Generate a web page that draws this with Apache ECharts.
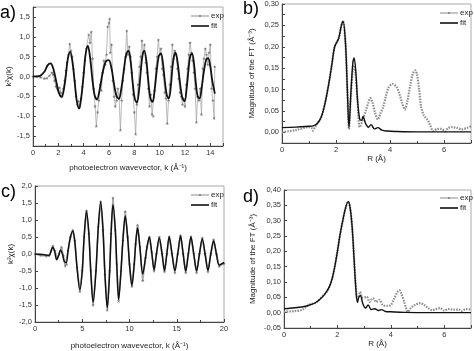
<!DOCTYPE html>
<html>
<head>
<meta charset="utf-8">
<script src="https://cdn.jsdelivr.net/npm/echarts@6/dist/echarts.min.js"></script>
<style>
  html, body { margin: 0; padding: 0; background: #fff; }
  #chart { width: 474px; height: 351px; }
</style>
</head>
<body>
<div id="chart"></div>
<script>
// a) k^2 chi(k), sample 1
const aExp = [
  [0,0],[0.3,0],[0.6,-0.02],[0.9,-0.05],[1.1,-0.04],[1.3,0.02],[1.5,0.1],[1.6,0.05],[1.7,-0.1],[1.8,-0.25],
  [1.9,-0.3],[2.0,-0.35],[2.1,-0.28],[2.2,-0.4],[2.3,-0.5],[2.4,-0.3],[2.5,-0.1],[2.6,0.15],[2.7,0.35],[2.8,0.55],
  [2.9,0.82],[3.0,0.65],[3.1,0.5],[3.2,0.2],[3.3,-0.1],[3.4,-0.5],[3.5,-0.7],[3.6,-0.62],[3.7,-0.75],[3.8,-0.55],
  [3.9,-0.25],[4.0,0.1],[4.1,0.4],[4.2,0.7],[4.3,0.75],[4.4,1.05],[4.5,0.85],[4.6,1.12],[4.7,0.45],[4.8,-0.3],
  [4.9,-0.75],[5.0,-1.25],[5.1,-0.9],[5.2,-0.6],[5.3,-0.2],[5.4,-0.35],[5.5,0.1],[5.6,0.4],[5.7,0.3],[5.8,0.55],
  [5.9,1.25],[6.0,1.35],[6.05,1.45],[6.1,0.6],[6.2,0.8],[6.3,-0.1],[6.4,-0.5],[6.5,-0.75],[6.6,-0.6],[6.7,-0.3],
  [6.8,-0.55],[6.9,-1.35],[7.0,-0.6],[7.1,-0.1],[7.2,0.2],[7.3,0.5],[7.4,1.15],[7.5,0.55],[7.6,0.75],[7.7,0.5],
  [7.8,0.1],[7.9,-0.45],[8.0,-0.9],[8.1,-1.45],[8.2,-0.7],[8.3,-0.2],[8.4,0.25],[8.5,0.5],[8.6,0.9],[8.7,0.6],
  [8.8,0.8],[8.9,0.35],[9.0,0.1],[9.1,-0.3],[9.2,-0.75],[9.3,-0.45],[9.4,-0.95],[9.5,-1.0],[9.6,-0.35],[9.7,0.2],
  [9.8,0.5],[9.9,0.92],[10.0,0.55],[10.1,0.7],[10.2,0.2],[10.3,0.05],[10.4,-0.4],[10.5,-0.55],[10.6,-1.18],[10.7,-0.6],
  [10.8,-0.2],[10.9,0.25],[11.0,0.8],[11.1,0.45],[11.2,0.65],[11.3,0.55],[11.4,0.2],[11.5,-0.05],[11.6,-0.4],[11.7,-0.5],
  [11.8,-0.7],[11.9,-0.55],[12.0,-0.75],[12.1,-0.2],[12.2,0.2],[12.3,0.55],[12.4,0.85],[12.5,0.6],[12.6,0.4],[12.7,0.1],
  [12.8,-0.3],[12.9,-1.15],[13.0,-0.5],[13.1,-0.6],[13.2,-0.3],[13.3,-0.95],[13.4,0.2],[13.5,0.45],[13.6,0.7],[13.7,0.55],
  [13.8,0.3],[13.9,0.6],[14.0,0.8],[14.1,-0.3],[14.2,-0.6],[14.3,-1.05],[14.35,0.25]
];
const aFit = [
  [0,0],[0.5,0.01],[0.9,0.12],[1.15,0.28],[1.38,0.33],[1.6,0.2],[1.85,-0.15],[2.05,-0.42],[2.26,-0.51],[2.45,-0.3],
  [2.6,0.05],[2.75,0.45],[2.93,0.62],[3.1,0.4],[3.28,-0.1],[3.45,-0.6],[3.64,-0.81],[3.82,-0.5],[4.0,0.05],[4.15,0.55],
  [4.33,0.77],[4.5,0.5],[4.68,-0.05],[4.85,-0.45],[5.05,-0.58],[5.25,-0.35],[5.5,0.1],[5.75,0.38],[5.98,0.41],[6.2,0.2],
  [6.4,-0.2],[6.6,-0.5],[6.78,-0.56],[6.95,-0.35],[7.15,0.1],[7.35,0.55],[7.53,0.65],[7.7,0.4],[7.87,-0.15],[8.03,-0.55],
  [8.2,-0.66],[8.37,-0.35],[8.5,0.1],[8.63,0.5],[8.78,0.65],[8.95,0.4],[9.1,-0.1],[9.27,-0.55],[9.44,-0.64],[9.6,-0.35],
  [9.75,0.1],[9.92,0.5],[10.1,0.58],[10.27,0.3],[10.42,-0.15],[10.57,-0.48],[10.72,-0.55],[10.88,-0.25],[11.0,0.2],[11.12,0.5],
  [11.25,0.6],[11.42,0.35],[11.6,-0.15],[11.8,-0.55],[11.97,-0.62],[12.13,-0.3],[12.27,0.15],[12.4,0.5],[12.55,0.58],[12.72,0.3],
  [12.85,-0.15],[13.0,-0.5],[13.16,-0.55],[13.33,-0.25],[13.5,0.15],[13.67,0.42],[13.83,0.46],[14.0,0.25],[14.15,-0.1],[14.36,-0.43]
];

// b) FT magnitude, sample 1
const bExp = [
  [0,0],[0.5,0.005],[1.0,0.012],[1.1,0.01],[1.15,0.004],[1.22,0.012],[1.3,0.02],[1.45,0.035],[1.6,0.07],[1.75,0.12],
  [1.85,0.16],[1.95,0.2],[2.1,0.22],[2.2,0.25],[2.26,0.26],[2.35,0.21],[2.42,0.1],[2.48,0.007],[2.55,0.085],[2.62,0.145],
  [2.67,0.156],[2.73,0.135],[2.8,0.07],[2.88,0.012],[3.0,0.03],[3.1,0.05],[3.2,0.07],[3.27,0.08],[3.35,0.07],[3.45,0.045],
  [3.55,0.03],[3.65,0.045],[3.75,0.06],[3.85,0.085],[3.95,0.105],[4.1,0.113],[4.25,0.105],[4.35,0.09],[4.45,0.068],[4.55,0.053],
  [4.65,0.075],[4.75,0.11],[4.85,0.138],[4.93,0.145],[5.0,0.135],[5.08,0.1],[5.15,0.06],[5.25,0.04],[5.4,0.028],[5.5,0.015],
  [5.6,0.003],[5.75,0.008],[5.9,0.008],[6.05,0.002],[6.15,0.01],[6.3,0.012],[6.5,0.01],[6.65,0.007],[6.85,0.01],[7.0,0.014]
];
const bFit = [
  [0,0.011],[0.5,0.012],[1.0,0.014],[1.15,0.015],[1.3,0.02],[1.45,0.035],[1.6,0.07],[1.75,0.12],[1.85,0.16],[1.95,0.2],
  [2.1,0.22],[2.2,0.25],[2.26,0.26],[2.35,0.21],[2.42,0.1],[2.48,0.012],[2.55,0.09],[2.62,0.16],[2.67,0.174],[2.73,0.145],
  [2.8,0.074],[2.88,0.03],[2.95,0.028],[3.0,0.037],[3.1,0.02],[3.2,0.012],[3.3,0.018],[3.42,0.008],[3.55,0.011],[3.7,0.005],
  [3.9,0.003],[4.2,0.002],[5.0,0.001],[6.0,0.001],[7.0,0.001]
];

// c) k^2 chi(k), sample 2
const cExp = [
  [0,0],[0.6,-0.04],[1.2,-0.06],[1.5,-0.05],[1.7,0.1],[1.9,0.24],[2.1,0.1],[2.35,-0.12],[2.55,0.0],[2.8,0.2],
  [3.0,-0.05],[3.2,-0.35],[3.35,-0.3],[3.5,0.1],[3.75,0.5],[4.0,0.7],[4.2,0.4],[4.45,-0.4],[4.75,-1.1],[5.0,-0.5],
  [5.2,0.5],[5.45,1.28],[5.7,0.6],[5.9,-0.5],[6.15,-1.5],[6.45,-0.5],[6.7,0.8],[6.95,1.55],[7.2,0.7],[7.4,-0.6],
  [7.65,-1.65],[7.9,-0.5],[8.05,0.6],[8.25,1.65],[8.5,0.7],[8.65,-0.3],[8.85,-1.38],[9.1,-0.5],[9.3,0.4],[9.55,1.25],
  [9.8,0.5],[10.0,-0.3],[10.25,-0.95],[10.5,-0.3],[10.65,0.3],[10.85,0.85],[11.1,0.2],[11.4,-0.78],[11.7,-0.1],[11.85,0.2],
  [12.1,0.5],[12.35,0.05],[12.6,-0.5],[12.85,0.0],[13.15,0.5],[13.45,0.0],[13.7,-0.52],[13.95,0.0],[14.2,0.52],[14.5,0.0],
  [14.8,-0.55],[15.1,0.0],[15.4,0.55],[15.68,0.0],[15.95,-0.55],[16.22,0.0],[16.5,0.52],[16.8,0.0],[17.1,-0.55],[17.4,0.0],
  [17.7,0.47],[18.0,0.0],[18.3,-0.52],[18.6,0.0],[18.9,0.42],[19.2,0.0],[19.5,-0.36],[20,-0.28]
];
const cFit = [
  [0,0],[0.6,-0.01],[1.2,-0.03],[1.5,-0.04],[1.7,0.08],[1.85,0.2],[2.05,0.1],[2.3,-0.17],[2.5,-0.05],[2.7,0.12],
  [2.9,0.0],[3.1,-0.22],[3.3,-0.25],[3.5,0.1],[3.75,0.5],[4.0,0.68],[4.2,0.4],[4.45,-0.4],[4.75,-1.05],[5.0,-0.5],
  [5.2,0.5],[5.45,1.25],[5.7,0.6],[5.9,-0.5],[6.15,-1.42],[6.45,-0.5],[6.7,0.8],[6.95,1.52],[7.2,0.7],[7.4,-0.6],
  [7.65,-1.58],[7.9,-0.5],[8.05,0.6],[8.25,1.45],[8.5,0.7],[8.65,-0.3],[8.85,-1.33],[9.1,-0.5],[9.3,0.4],[9.55,1.12],
  [9.8,0.5],[10.0,-0.3],[10.25,-0.92],[10.5,-0.3],[10.65,0.3],[10.85,0.77],[11.1,0.2],[11.4,-0.59],[11.7,-0.1],[11.85,0.2],
  [12.1,0.49],[12.35,0.05],[12.6,-0.46],[12.85,0.0],[13.15,0.47],[13.45,0.0],[13.7,-0.49],[13.95,0.0],[14.2,0.5],[14.5,0.0],
  [14.8,-0.49],[15.1,0.0],[15.4,0.53],[15.68,0.0],[15.95,-0.5],[16.22,0.0],[16.5,0.5],[16.8,0.0],[17.1,-0.5],[17.4,0.0],
  [17.7,0.44],[18.0,0.0],[18.3,-0.48],[18.6,0.0],[18.9,0.38],[19.2,0.0],[19.5,-0.32],[20,-0.25]
];

// d) FT magnitude, sample 2
const dExp = [
  [0,0.003],[0.4,0.005],[0.7,0.01],[0.85,0.02],[1.0,0.028],[1.15,0.03],[1.3,0.04],[1.45,0.055],[1.6,0.068],[1.7,0.085],
  [1.8,0.11],[1.9,0.15],[2.0,0.2],[2.1,0.255],[2.2,0.3],[2.3,0.34],[2.4,0.362],[2.47,0.345],[2.55,0.28],[2.62,0.18],
  [2.68,0.1],[2.74,0.045],[2.8,0.055],[2.85,0.068],[2.92,0.05],[3.0,0.05],[3.1,0.052],[3.2,0.035],[3.33,0.047],[3.45,0.035],
  [3.57,0.042],[3.7,0.025],[3.85,0.022],[4.0,0.025],[4.12,0.045],[4.25,0.068],[4.32,0.073],[4.4,0.06],[4.5,0.035],[4.58,0.012],
  [4.63,0.003],[4.75,0.015],[4.9,0.025],[5.1,0.031],[5.25,0.025],[5.4,0.015],[5.55,0.008],[5.7,0.012],[5.85,0.015],[6.0,0.007],
  [6.15,0.012],[6.35,0.01],[6.55,0.01],[6.65,0.005],[6.8,0.012],[7.0,0.01]
];
const dFit = [
  [0,0.013],[0.5,0.017],[0.8,0.021],[1.0,0.026],[1.2,0.034],[1.4,0.048],[1.55,0.063],[1.7,0.085],[1.8,0.11],[1.9,0.15],
  [2.0,0.2],[2.1,0.255],[2.2,0.3],[2.3,0.34],[2.4,0.362],[2.47,0.345],[2.55,0.28],[2.62,0.18],[2.68,0.09],[2.75,0.033],
  [2.8,0.05],[2.86,0.055],[2.95,0.03],[3.05,0.015],[3.15,0.025],[3.27,0.01],[3.4,0.013],[3.52,0.007],[3.65,0.01],[3.8,0.004],
  [4.0,0.003],[4.5,0.001],[5.5,0.0],[7.0,0.0]
];

const panelLetters = ['a)', 'b)', 'c)', 'd)'];
const kName = 'photoelectron wavevector, k (Å⁻¹)';
const rName = 'R (Å)';
const chiName = 'k²χ(k)';
const ftName = 'Magnitude of the FT (Å⁻³)';

const FONT = '"Liberation Sans", Arial, sans-serif';
const star = 'path://M5,0L6.2,3.8L10,3.8L6.9,6.1L8.1,10L5,7.6L1.9,10L3.1,6.1L0,3.8L3.8,3.8Z';
const expIcon = 'path://M0,4.6L8,4.6L8,4L10,4L10,4.6L18,4.6L18,5.4L10,5.4L10,6L8,6L8,5.4L0,5.4Z';
const fitIcon = 'path://M0,4.2L18,4.2L18,5.8L0,5.8Z';

const comma = (v, d) => (Math.abs(v) < 1e-9 ? 0 : v).toFixed(d).replace('.', ',');
const everyN = (step, d, scale) => v => {
  const r = Math.round(v * scale);
  return r % Math.round(step * scale) === 0 ? comma(v, d) : '';
};

const axisBase = {
  axisLine: { onZero: false, lineStyle: { color: '#444', width: 1 } },
  axisTick: { inside: true, length: 3, lineStyle: { color: '#444' } },
  splitLine: { show: false },
  axisLabel: { fontSize: 7.5, color: '#333', fontFamily: FONT, margin: 3 },
  nameTextStyle: { fontSize: 8, color: '#222', fontFamily: FONT },
  nameLocation: 'middle'
};

function xAx(grid, max, interval, name, gap) {
  return Object.assign({}, axisBase, {
    type: 'value', gridIndex: grid, min: 0, max: max, interval: interval,
    name: name, nameGap: gap,
    minorTick: { show: true, splitNumber: 2, length: 2, lineStyle: { color: '#444' } },
    axisLabel: Object.assign({}, axisBase.axisLabel, {
      formatter: v => (Math.round(v) % interval === 0 ? String(Math.round(v)) : '')
    })
  });
}
function yAx(grid, min, max, interval, fmt, name, gap) {
  return Object.assign({}, axisBase, {
    type: 'value', gridIndex: grid, min: min, max: max, interval: interval,
    name: name, nameGap: gap,
    axisLabel: Object.assign({}, axisBase.axisLabel, { formatter: fmt })
  });
}

function expSeries(i, data, dotted) {
  return {
    name: 'exp', type: 'line', xAxisIndex: i, yAxisIndex: i, data: data,
    smooth: dotted ? 0.3 : false,
    symbol: dotted ? 'none' : star, symbolSize: 3.5,
    itemStyle: { color: '#7a7a7a' },
    lineStyle: dotted
      ? { color: '#8c8c8c', width: 2.2, type: [1.5, 1.2] }
      : { color: '#a8a8a8', width: i === 2 ? 1.6 : 0.8 },
    z: 2, animation: false
  };
}
function fitSeries(i, data, w) {
  return {
    name: 'fit', type: 'line', xAxisIndex: i, yAxisIndex: i, data: data,
    smooth: 0.35, symbol: 'none',
    itemStyle: { color: '#111' },
    lineStyle: { color: '#111', width: w },
    z: 3, animation: false
  };
}
function legendAt(left, top) {
  return {
    left: left, top: top, orient: 'vertical', itemWidth: 18, itemHeight: 8, itemGap: 2,
    selectedMode: false,
    data: [
      { name: 'exp', icon: expIcon, itemStyle: { color: '#8c8c8c' } },
      { name: 'fit', icon: fitIcon, itemStyle: { color: '#111' } }
    ],
    textStyle: { fontSize: 8, color: '#222', fontFamily: FONT, padding: [0, 0, 0, -3] }
  };
}

const chart = echarts.init(document.getElementById('chart'), null, { renderer: 'canvas' });
chart.setOption({
  backgroundColor: '#fff',
  animation: false,
  title: [
    { text: panelLetters[0], left: 0, top: 4 },
    { text: panelLetters[1], left: 243, top: 0 },
    { text: panelLetters[2], left: 1, top: 183 },
    { text: panelLetters[3], left: 243, top: 188 }
  ].map(t => Object.assign(t, { padding: 0, textStyle: { fontSize: 18, fontWeight: 'normal', color: '#000', fontFamily: FONT } })),
  legend: [legendAt(186, 7), legendAt(435, 4), legendAt(186, 186), legendAt(435, 189)],
  grid: [
    { left: 33, top: 7, width: 190, height: 139 },
    { left: 282, top: 4, width: 189, height: 139 },
    { left: 35, top: 186, width: 189, height: 137 },
    { left: 284, top: 190, width: 188, height: 138 }
  ].map(g => Object.assign(g, { show: true, borderColor: '#aaa', borderWidth: 1 })),
  xAxis: [
    xAx(0, 15, 2, kName, 18),
    xAx(1, 7, 2, rName, 10),
    xAx(2, 20, 5, kName, 20),
    xAx(3, 7, 2, rName, 9)
  ],
  yAxis: [
    yAx(0, -1.75, 1.75, 0.25, everyN(0.5, 1, 100), chiName, 17),
    yAx(1, -0.025, 0.30, 0.025, everyN(0.05, 2, 1000), ftName, 26),
    yAx(2, -2, 2, 0.5, v => comma(v, 1), chiName, 19),
    yAx(3, -0.05, 0.40, 0.05, v => comma(v, 2), ftName, 27)
  ],
  series: [
    expSeries(0, aExp, false), fitSeries(0, aFit, 1.8),
    expSeries(1, bExp, true), fitSeries(1, bFit, 1.4),
    expSeries(2, cExp, false), fitSeries(2, cFit, 1.5),
    expSeries(3, dExp, true), fitSeries(3, dFit, 1.4)
  ]
});
</script>
</body>
</html>
